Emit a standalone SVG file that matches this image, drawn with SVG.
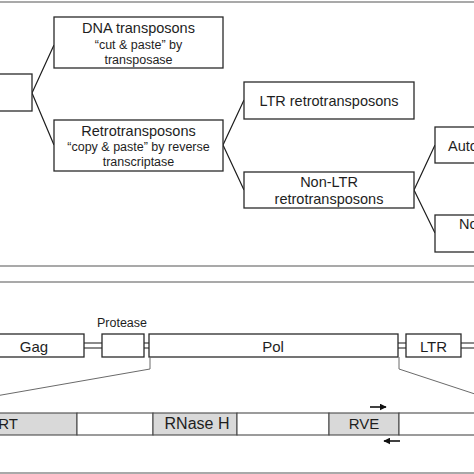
<svg xmlns="http://www.w3.org/2000/svg" width="474" height="474" viewBox="0 0 474 474">
<defs>
<style>
.frame{stroke:#8c8c8c;stroke-width:1.6;fill:none}
.box{fill:#fff;stroke:#2a2a2a;stroke-width:1.3}
.gbox{fill:#d9d9d9;stroke:#4a4a4a;stroke-width:1.1}
.wbox{fill:#fff;stroke:#4a4a4a;stroke-width:1.1}
.con{stroke:#1e1e1e;stroke-width:1.2;fill:none}
.zoom{stroke:#6a6a6a;stroke-width:1;fill:none}
.dbl{stroke:#2a2a2a;stroke-width:1.1;fill:none}
text{font-family:"Liberation Sans",Arial,sans-serif;fill:#1e1e1e;text-anchor:middle}
.t14{font-size:14.5px}
.t12{font-size:12.5px}
.t15{font-size:15px}
</style>
<marker id="ah" viewBox="0 0 10 10" refX="9" refY="5" markerWidth="7" markerHeight="7" orient="auto" markerUnits="userSpaceOnUse">
<path d="M0,0 L10,5 L0,10 z" fill="#111"/>
</marker>
</defs>
<rect width="474" height="474" fill="#fff"/>
<g id="frames">
<line class="frame" x1="0" y1="2" x2="474" y2="2"/>
<line class="frame" x1="0" y1="266" x2="474" y2="266"/>
<line class="frame" x1="0" y1="282" x2="474" y2="282"/>
<line class="frame" x1="0" y1="473" x2="474" y2="473"/>
</g>
<g id="connectors">
<polyline class="con" points="54,45 32,93 54,145"/>
<polyline class="con" points="244,100 223,145 244,190"/>
<polyline class="con" points="435,145 414,190 435,233"/>
</g>
<g id="root"><rect class="box" x="-20" y="74" width="52" height="37"/></g>
<g id="dna"><rect class="box" x="54" y="17" width="169" height="51"/>
<text class="t14" x="138.5" y="33">DNA transposons</text>
<text class="t12" x="138.5" y="49">“cut &amp; paste” by</text>
<text class="t12" x="138.5" y="64">transposase</text></g>
<g id="retro"><rect class="box" x="54" y="120" width="169" height="51"/>
<text class="t14" x="138.5" y="136">Retrotransposons</text>
<text class="t12" x="138.5" y="151">“copy &amp; paste” by reverse</text>
<text class="t12" x="138.5" y="166">transcriptase</text></g>
<g id="ltr"><rect class="box" x="244" y="82" width="170" height="37"/>
<text class="t14" x="329" y="106">LTR retrotransposons</text></g>
<g id="nonltr"><rect class="box" x="244" y="172" width="170" height="36"/>
<text class="t14" x="329" y="187">Non-LTR</text>
<text class="t14" x="329" y="204">retrotransposons</text></g>
<g id="aut"><rect class="box" x="435" y="127" width="170" height="36"/>
<text class="t14" x="448" y="151" style="text-anchor:start">Autonomous</text></g>
<g id="nonaut"><rect class="box" x="435" y="215" width="170" height="37"/>
<text class="t14" x="459" y="229" style="text-anchor:start">Non-autonomous</text></g>

<g id="structure">
<line class="dbl" x1="84" y1="343" x2="102" y2="343"/><line class="dbl" x1="84" y1="348" x2="102" y2="348"/>
<line class="dbl" x1="144" y1="343" x2="149" y2="343"/><line class="dbl" x1="144" y1="348" x2="149" y2="348"/>
<line class="dbl" x1="398" y1="343" x2="406" y2="343"/><line class="dbl" x1="398" y1="348" x2="406" y2="348"/>
<line class="dbl" x1="461" y1="343" x2="480" y2="343"/><line class="dbl" x1="461" y1="348" x2="480" y2="348"/>
</g>
<g id="gag"><rect class="box" x="-20" y="334" width="104" height="23"/><text class="t15" x="34" y="352">Gag</text></g>
<g id="protease"><rect class="box" x="102" y="334" width="42" height="23"/><text class="t12" x="122" y="327">Protease</text></g>
<g id="pol"><rect class="box" x="149" y="334" width="249" height="23"/><text class="t15" x="273" y="352">Pol</text></g>
<g id="ltr2"><rect class="box" x="406" y="334" width="55" height="23"/><text class="t15" x="433.5" y="352">LTR</text></g>
<g id="zoomlines">
<polyline class="zoom" points="150,357 150,369 -10,397"/>
<polyline class="zoom" points="399,357 399,369 484,397"/>
</g>
<g id="domains">
<rect class="gbox" x="-20" y="413" width="97" height="22"/>
<rect class="wbox" x="77" y="413" width="76" height="22"/>
<rect class="gbox" x="153" y="413" width="84" height="22"/>
<rect class="wbox" x="237" y="413" width="92" height="22"/>
<rect class="gbox" x="329" y="413" width="70" height="22"/>
<rect class="wbox" x="399" y="413" width="90" height="22"/>
<text class="t15" x="8" y="429">RT</text>
<text class="t15" x="197" y="429" style="font-size:16px">RNase H</text>
<text class="t15" x="364" y="429">RVE</text>
</g>
<g id="primers">
<line stroke="#111" stroke-width="1.6" x1="370" y1="407" x2="386" y2="407" marker-end="url(#ah)"/>
<line stroke="#111" stroke-width="1.6" x1="400" y1="441" x2="384" y2="441" marker-end="url(#ah)"/>
</g>
</svg>
